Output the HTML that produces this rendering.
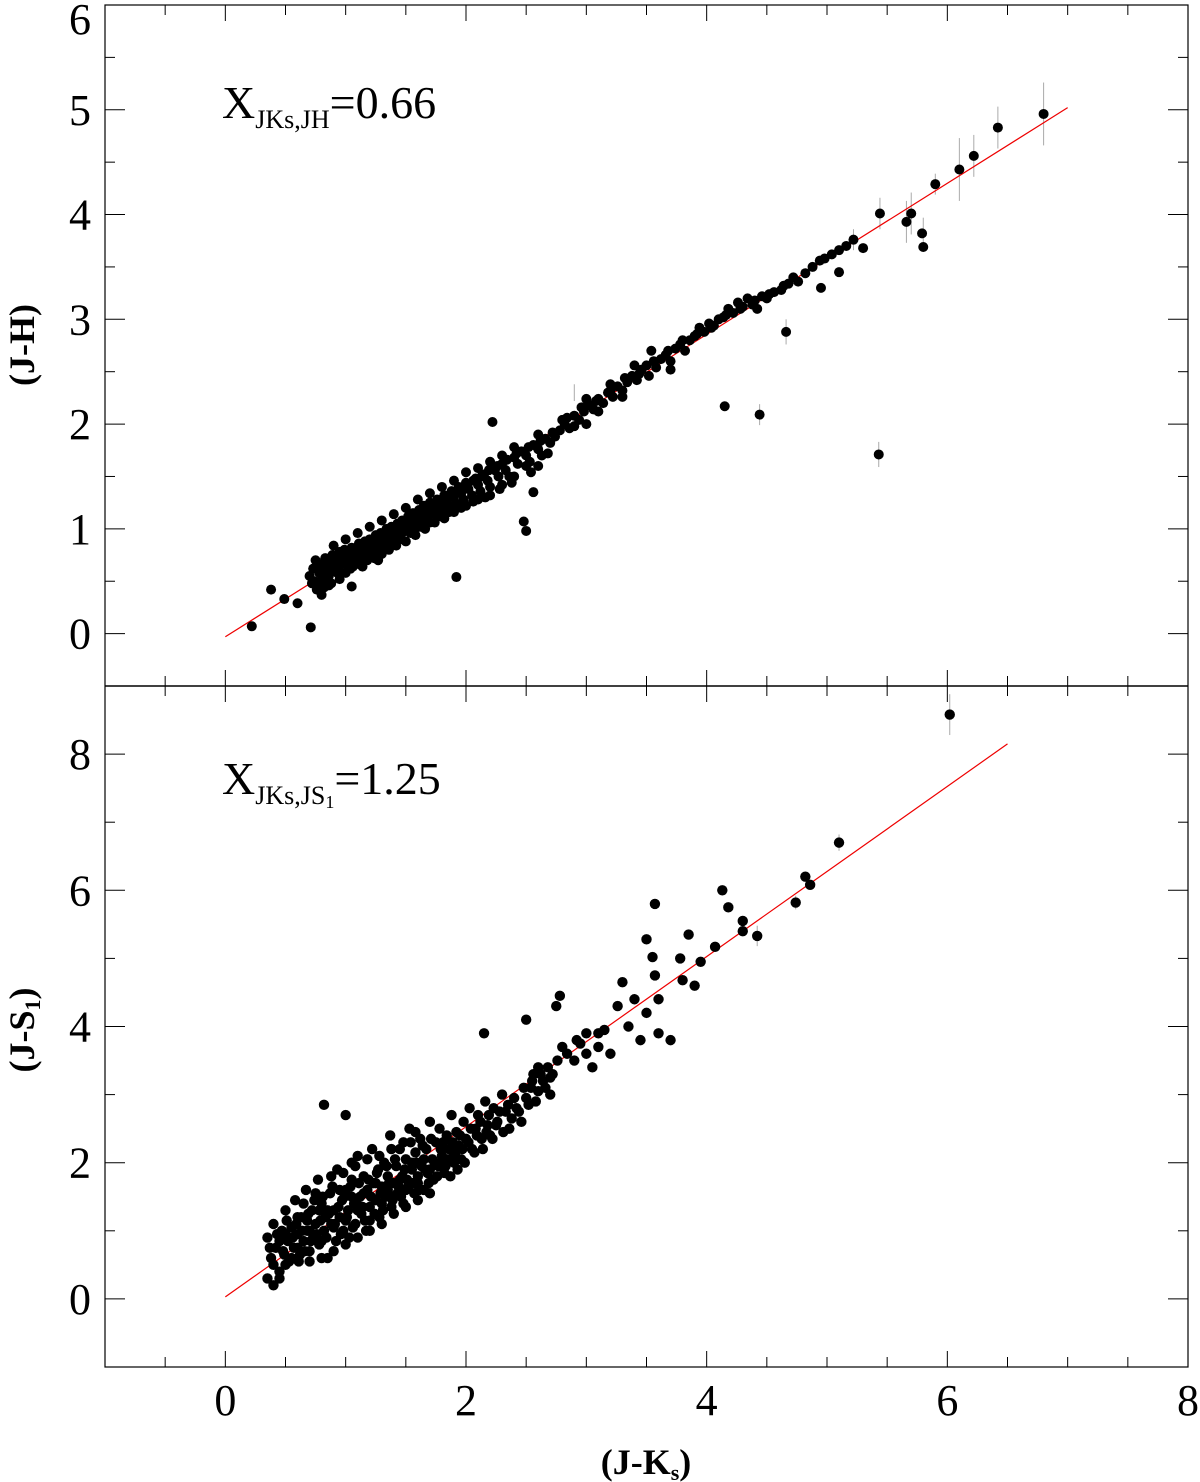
<!DOCTYPE html>
<html><head><meta charset="utf-8"><style>
html,body{margin:0;padding:0;background:#fff}
svg{display:block;font-family:"Liberation Serif",serif}
</style></head><body>
<svg id="chart" width="1200" height="1482" viewBox="0 0 1200 1482" xmlns="http://www.w3.org/2000/svg">
<g id="marks"></g>
<text x="222" y="118" font-size="46">X<tspan font-size="26" dy="10">JKs,JH</tspan><tspan dy="-10">=0.66</tspan></text>
<text x="222" y="794" font-size="46">X<tspan font-size="26" dy="10">JKs,JS</tspan><tspan font-size="18" dy="4">1</tspan><tspan dy="-14">=1.25</tspan></text>
<text transform="translate(34,345) rotate(-90)" text-anchor="middle" font-size="36" font-weight="bold">(J-H)</text>
<text transform="translate(34,1030) rotate(-90)" text-anchor="middle" font-size="36" font-weight="bold">(J-S<tspan font-size="22" dy="6">1</tspan><tspan dy="-6">)</tspan></text>
<text x="646" y="1474" text-anchor="middle" font-size="36" font-weight="bold">(J-K<tspan font-size="22" dy="6">s</tspan><tspan dy="-6">)</tspan></text>
</svg>
<script>
const xTicks=[0,2,4,6,8];
const topYTicks=[0,1,2,3,4,5,6];
const botYTicks=[0,2,4,6,8];
const topFit=[[0,-0.03],[7,5.02]];
const botFit=[[0,0.03],[6.5,8.15]];
const topErr=[[5.44,4.01,0.15],[5.66,3.93,0.2],[5.7,4.01,0.2],[5.8,3.82,0.15],[5.9,4.29,0.1],[6.1,4.43,0.3],[6.22,4.56,0.2],[6.42,4.83,0.2],[6.8,4.96,0.3],[5.43,1.71,0.12],[4.66,2.88,0.12],[4.44,2.09,0.1],[5.22,3.76,0.1],[2.9,2.3,0.08]];
const botErr=[[6.02,8.58,0.3],[5.1,6.7,0.12],[4.42,5.33,0.15],[4.74,5.82,0.1]];
const topPts=[[0.22,0.07],[0.38,0.42],[0.49,0.33],[0.6,0.29],[0.71,0.06],[1.92,0.54],[2.5,0.98],[2.48,1.07],[2.56,1.35],[4.15,2.17],[4.44,2.09],[4.66,2.88],[5.43,1.71],[5.8,3.69],[5.79,3.82],[5.7,4.01],[5.66,3.93],[5.44,4.01],[5.9,4.29],[6.1,4.43],[6.22,4.56],[6.42,4.83],[6.8,4.96],[5.3,3.68],[0.8,0.37],[1.05,0.45],[1.27,0.7],[1.57,1.0],
[0.70,0.55],[0.72,0.48],[0.73,0.62],[0.75,0.70],[0.76,0.42],[0.78,0.58],[0.80,0.66],[0.81,0.52],[0.83,0.72],[0.84,0.60],[0.86,0.55],[0.87,0.68],[0.89,0.75],[0.90,0.62],[0.92,0.70],[0.93,0.58],[0.95,0.78],[0.96,0.66],[0.98,0.72],[0.99,0.80],[1.01,0.68],[1.02,0.75],[1.04,0.62],[1.05,0.82],[1.07,0.74],[1.08,0.78],[1.10,0.70],[1.11,0.86],[1.13,0.79],[1.14,0.72],[1.16,0.88],[1.17,0.82],[1.19,0.76],[1.20,0.90],[1.22,0.85],[1.23,0.78],[1.25,0.94],[1.26,0.88],[1.28,0.82],[1.29,0.96],[1.31,0.90],[1.32,0.86],[1.34,1.00],[1.35,0.92],[1.37,0.88],[1.38,1.02],[1.40,0.96],[1.41,0.90],[1.43,1.05],[1.44,1.00],[1.46,0.95],[1.47,1.08],[1.49,1.03],[1.50,0.98],[1.52,1.12],[1.53,1.06],[1.55,1.02],[1.56,1.15],[1.58,1.10],[1.59,1.05],[1.61,1.18],[1.62,1.12],[1.64,1.08],[1.65,1.22],[1.67,1.16],[1.68,1.12],[1.70,1.25],[1.72,1.20],[1.74,1.14],[1.76,1.28],[1.78,1.22],[1.80,1.18],[1.82,1.32],[1.84,1.26],[1.86,1.22],[1.88,1.36],[1.90,1.30],[1.92,1.24],[1.94,1.40],[1.96,1.34],[1.98,1.28],[2.00,1.44],[2.02,1.38],[2.05,1.32],[2.08,1.48],[2.10,1.42],[2.12,1.36],[2.15,1.52],[2.18,1.46],[2.20,1.40],[2.22,2.02],[2.24,1.56],[2.27,1.50],[2.30,1.62],[2.33,1.56],[2.36,1.50],[2.40,1.68],[2.43,1.62],[2.46,1.74],[2.50,1.70],[2.53,1.64],[2.56,1.80],[2.60,1.76],[2.63,1.70],[2.66,1.86],[2.70,1.82],[2.74,1.88],[2.78,1.94],[2.82,2.00],[2.86,1.96],[2.90,2.08],[2.94,2.04],[2.98,2.12],[3.02,2.18],[3.06,2.14],[3.10,2.24],[3.14,2.20],[3.18,2.30],[3.22,2.26],[3.26,2.36],[3.30,2.32],[3.34,2.40],[3.38,2.46],[3.42,2.42],[3.46,2.52],[3.50,2.56],[3.54,2.70],[3.58,2.54],[3.62,2.62],[3.66,2.66],[3.70,2.60],[3.74,2.72],[3.78,2.76],[3.82,2.70],[3.86,2.80],[3.90,2.84],[3.94,2.92],[3.98,2.88],[4.02,2.96],[4.06,2.94],[4.10,3.00],[4.14,3.02],[4.18,3.10],[4.22,3.06],[4.26,3.16],[4.30,3.12],[4.34,3.20],[4.38,3.14],[4.42,3.10],[4.46,3.22],[4.50,3.20],[4.56,3.26],[4.62,3.28],[4.68,3.34],[4.72,3.40],[4.76,3.36],[4.82,3.44],[4.88,3.50],[4.94,3.56],[4.98,3.58],[5.04,3.62],[5.10,3.66],[5.16,3.70],[5.22,3.76],[5.10,3.45],[4.95,3.30],[3.00,2.00],[2.50,1.60],
[0.74,0.50],[0.82,0.44],[0.88,0.48],[0.95,0.52],[1.0,0.58],[1.06,0.64],[1.12,0.66],[1.18,0.70],[1.24,0.72],[1.3,0.76],[1.36,0.80],[1.42,0.84],[1.5,0.88],[1.58,0.94],[1.66,1.00],[1.74,1.06],[1.82,1.10],[1.9,1.16],[2.0,1.22],[2.1,1.28],[2.2,1.32],[2.3,1.42],[2.4,1.50],[2.6,1.60],[0.9,0.84],[1.0,0.90],[1.1,0.96],[1.2,1.02],[1.3,1.08],[1.4,1.14],[1.5,1.20],[1.6,1.28],[1.7,1.34],[1.8,1.40],[1.9,1.46],[2.0,1.54],[2.1,1.58],[2.2,1.64],[2.3,1.70],[2.4,1.78],[2.6,1.90],[2.8,2.04],[3.0,2.24],[3.2,2.38],[3.4,2.56],
[0.77,0.65],[0.85,0.64],[0.91,0.66],[0.97,0.74],[1.03,0.78],[1.09,0.82],[1.15,0.84],[1.21,0.88],[1.27,0.92],[1.33,0.95],[1.39,0.98],[1.45,1.04],[1.51,1.08],[1.57,1.12],[1.63,1.16],[1.69,1.20],[1.75,1.24],[1.81,1.26],[1.87,1.32],[1.93,1.36],[1.99,1.40],[2.06,1.46],[2.13,1.50],[2.19,1.56],[2.26,1.60],[2.34,1.66],[2.42,1.72],[2.52,1.78],[2.62,1.84],[2.72,1.92],[2.84,2.06],[2.96,2.16],[3.08,2.22],[3.2,2.32],[3.32,2.44],[3.44,2.48],[3.56,2.60],[3.68,2.70],[3.8,2.80],[3.92,2.86],[4.04,2.92],[4.16,3.04],[4.28,3.10],[4.4,3.18],[4.52,3.24],[4.64,3.32],[0.79,0.50],[0.86,0.46],[0.94,0.60],[1.0,0.66],[1.06,0.70],[1.14,0.64],[1.22,0.74],[1.3,0.82],[1.38,0.86],[1.46,0.90],[1.54,0.96],[1.62,1.02],[1.7,1.06],[1.78,1.12],[1.86,1.16],[1.96,1.20],[2.06,1.26],[2.16,1.30],[2.28,1.38],[2.38,1.44],[2.54,1.54],[2.68,1.72],[2.9,1.98],[3.1,2.12],[3.3,2.26],[3.52,2.46],[3.7,2.52]];
const botPts=[[6.02,8.58],[5.1,6.7],[4.82,6.2],[4.86,6.08],[4.74,5.82],[4.13,6.0],[4.18,5.75],[4.3,5.55],[4.3,5.4],[4.42,5.33],[4.07,5.17],[3.95,4.95],[3.78,5.0],[3.8,4.68],[3.9,4.6],[3.57,5.8],[3.5,5.28],[3.55,5.02],[3.57,4.75],[3.6,4.4],[3.85,5.35],[3.3,4.65],[3.4,4.4],[3.5,4.2],[3.26,4.3],[3.35,4.0],[3.45,3.8],[3.15,3.95],[3.0,3.9],[3.2,3.6],[3.05,3.4],[2.9,3.5],[2.78,4.45],[2.75,4.3],[2.5,4.1],[2.15,3.9],[2.7,3.0],[2.6,3.4],[2.55,3.2],[2.8,3.7],[2.95,3.75],[3.1,3.7],[3.6,3.9],[3.7,3.8],[0.82,2.85],[1.0,2.7],[1.05,2.0],[0.5,0.5],[0.4,0.2],[0.35,0.3],
[0.35,0.9],[0.38,0.6],[0.40,1.1],[0.42,0.75],[0.45,0.4],[0.47,1.0],[0.48,0.7],[0.50,1.3],[0.52,0.85],[0.53,0.55],[0.55,1.05],[0.57,0.75],[0.58,1.45],[0.60,0.95],[0.62,0.65],[0.63,1.2],[0.65,0.85],[0.67,1.6],[0.68,1.0],[0.70,0.7],[0.72,1.3],[0.73,0.9],[0.75,1.1],[0.77,1.75],[0.78,0.8],[0.80,1.4],[0.82,1.0],[0.83,1.2],[0.85,0.6],[0.87,1.55],[0.88,1.1],[0.90,1.3],[0.92,0.85],[0.93,1.9],[0.95,1.2],[0.97,1.45],[0.98,1.0],[1.00,1.6],[1.02,1.3],[1.03,0.9],[1.05,1.75],[1.07,1.4],[1.08,1.1],[1.10,2.1],[1.12,1.5],[1.13,1.25],[1.15,1.8],[1.17,1.0],[1.18,1.6],[1.20,1.35],[1.22,2.2],[1.23,1.7],[1.25,1.45],[1.27,1.9],[1.28,1.2],[1.30,1.65],[1.32,2.0],[1.33,1.5],[1.35,1.8],[1.37,2.4],[1.38,1.35],[1.40,1.7],[1.42,1.95],[1.43,1.55],[1.45,2.2],[1.47,1.8],[1.48,1.4],[1.50,2.05],[1.52,1.65],[1.53,2.5],[1.55,1.9],[1.57,1.55],[1.58,2.15],[1.60,1.8],[1.62,2.35],[1.63,1.95],[1.65,1.6],[1.67,2.2],[1.68,1.85],[1.70,2.6],[1.72,2.05],[1.73,1.75],[1.75,2.3],[1.77,1.95],[1.78,2.5],[1.80,2.1],[1.82,1.85],[1.84,2.4],[1.86,2.2],[1.88,2.7],[1.90,2.0],[1.92,2.45],[1.94,2.25],[1.96,2.05],[1.98,2.6],[2.00,2.35],[2.03,2.8],[2.05,2.2],[2.08,2.5],[2.10,2.7],[2.13,2.35],[2.16,2.9],[2.18,2.55],[2.20,2.4],[2.23,2.8],[2.26,2.6],[2.30,3.0],[2.33,2.75],[2.36,2.5],[2.40,2.95],[2.44,2.75],[2.48,3.1],[2.52,2.85],[2.56,3.3],[2.60,3.05],[2.64,3.2],[2.68,3.4],[2.72,3.3],[2.76,3.5],[2.84,3.6],[2.92,3.8],[3.0,3.6],[3.1,3.9],
[0.45,0.85],[0.55,0.6],[0.6,1.2],[0.7,1.0],[0.8,0.85],[0.9,1.05],[1.0,1.15],[1.1,1.3],[1.2,1.15],[1.3,1.4],[1.4,1.5],[1.5,1.6],[1.6,1.7],[1.7,1.9],[1.8,2.0],[1.9,2.1],[0.65,1.4],[0.75,1.55],[0.85,1.3],[0.95,1.6],[1.05,1.5],[1.15,1.55],[1.25,1.7],[1.35,1.6],[1.45,1.75],[1.55,2.0],[1.65,2.05],[0.5,0.95],[0.6,0.75],[0.7,0.55],[0.8,0.6],[0.9,0.7],[1.0,0.8],[1.1,0.9],[1.2,1.0],[1.3,1.1],[1.4,1.25],[1.5,1.35],[1.6,1.45],[1.7,1.55],[0.4,0.5],[0.45,0.3],
[0.37,0.75],[0.43,0.95],[0.49,0.65],[0.51,1.15],[0.56,0.9],[0.59,1.1],[0.61,0.55],[0.64,1.0],[0.66,0.7],[0.69,1.25],[0.71,0.85],[0.74,1.45],[0.76,0.95],[0.79,1.15],[0.81,1.5],[0.84,0.9],[0.86,1.25],[0.89,1.65],[0.91,1.1],[0.94,1.35],[0.96,0.95],[0.99,1.5],[1.01,1.2],[1.04,1.65],[1.06,1.05],[1.09,1.45],[1.11,1.7],[1.14,1.35],[1.16,1.15],[1.19,1.75],[1.21,1.5],[1.24,1.25],[1.26,1.85],[1.29,1.55],[1.31,1.3],[1.34,1.95],[1.36,1.7],[1.39,1.45],[1.41,2.05],[1.44,1.65],[1.46,1.5],[1.49,1.9],[1.51,1.75],[1.54,2.3],[1.56,1.7],[1.59,2.0],[1.61,1.6],[1.64,2.25],[1.66,1.9],[1.69,1.7],[1.71,2.35],[1.74,2.0],[1.76,1.8],[1.79,2.2],[1.81,2.3],[1.83,1.95],[1.85,2.05],[1.87,1.8],[1.89,2.3],[1.91,2.15],[1.93,1.9],[1.95,2.4],[1.97,2.2],[1.99,2.0],[2.02,2.3],[2.04,2.5],[2.07,2.15],[2.09,2.4],[2.12,2.6],[2.14,2.2],[2.17,2.45],[2.19,2.7],[2.22,2.35],[2.25,2.55],[2.28,2.75],[2.31,2.45],[2.35,2.85],[2.38,2.65],[2.42,2.8],[2.46,2.6],[2.5,2.95],[2.54,3.1],[2.58,2.9],[2.62,3.3],[2.66,3.1],[2.7,3.25],[0.98,1.85],[1.08,1.95],[1.18,2.05],[1.28,2.1],[1.38,2.2],[1.48,2.3],[1.58,2.45],[0.88,1.8],[0.78,1.3],[0.68,1.15]];

const NS='http://www.w3.org/2000/svg';
const g=document.getElementById('marks');
const L=105,R=1188;
const sx=v=>L+(v+1)*(R-L)/9;
const topY=v=>5+(6-v)*(686-5)/6.5;
const botY=v=>686+(9-v)*(1367-686)/10;
function mk(tag,attrs,parent){const e=document.createElementNS(NS,tag);for(const k in attrs)e.setAttribute(k,attrs[k]);(parent||g).appendChild(e);return e;}

let f=mk('rect',{x:L,y:5,width:R-L,height:1362,fill:'none',stroke:'#000','stroke-width':1.2});


let mid=mk('line',{x1:L,x2:R,y1:686,y2:686,stroke:'#000','stroke-width':1.5});



for(let v=-0.5;v<=8;v+=0.5){
  const major=xTicks.includes(v);const len=major?16:10;const x=sx(v);
  for(const yb of [[5,1],[686,1],[686,-1],[1367,-1]]){
    const t=mk('line',{x1:x,x2:x,y1:yb[0],y2:yb[0]+yb[1]*len,stroke:'#000','stroke-width':1});
    
    
  }
}
xTicks.forEach(v=>{
  const t=mk('text',{x:sx(v),y:1415,'text-anchor':'middle','font-size':44});
  t.textContent=v;
  
  
});
for(let v=-0.5;v<=6;v+=0.5){
  const major=Number.isInteger(v);const len=major?20:10;const y=topY(v);
  [[L,1],[R,-1]].forEach(s=>{const t=mk('line',{x1:s[0],x2:s[0]+s[1]*len,y1:y,y2:y,stroke:'#000','stroke-width':1});
  
  });
}
topYTicks.forEach(v=>{
  const t=mk('text',{x:80,y:Math.max(topY(v)+15,34),'text-anchor':'middle','font-size':44});
  t.textContent=v;
  
  
});
for(let v=-1;v<=9;v+=1){
  const major=v%2===0;const len=major?20:10;const y=botY(v);
  [[L,1],[R,-1]].forEach(s=>{const t=mk('line',{x1:s[0],x2:s[0]+s[1]*len,y1:y,y2:y,stroke:'#000','stroke-width':1});
  
  });
}
botYTicks.forEach(v=>{
  const t=mk('text',{x:80,y:botY(v)+15,'text-anchor':'middle','font-size':44});
  t.textContent=v;
  
  
});
topErr.forEach(e=>{const l=mk('line',{x1:sx(e[0]),x2:sx(e[0]),y1:topY(e[1]-e[2]),y2:topY(e[1]+e[2]),stroke:'#aaa','stroke-width':1});

});
botErr.forEach(e=>{const l=mk('line',{x1:sx(e[0]),x2:sx(e[0]),y1:botY(e[1]-e[2]),y2:botY(e[1]+e[2]),stroke:'#aaa','stroke-width':1});

});
let fl=mk('line',{x1:sx(topFit[0][0]),y1:topY(topFit[0][1]),x2:sx(topFit[1][0]),y2:topY(topFit[1][1]),stroke:'#e00','stroke-width':1.2});


let fl2=mk('line',{x1:sx(botFit[0][0]),y1:botY(botFit[0][1]),x2:sx(botFit[1][0]),y2:botY(botFit[1][1]),stroke:'#e00','stroke-width':1.2});


topPts.forEach(p=>{const c=mk('circle',{cx:sx(p[0]),cy:topY(p[1]),r:5,fill:'#000'});

});
botPts.forEach(p=>{const c=mk('circle',{cx:sx(p[0]),cy:botY(p[1]),r:5.2,fill:'#000'});

});
</script>
</body></html>
